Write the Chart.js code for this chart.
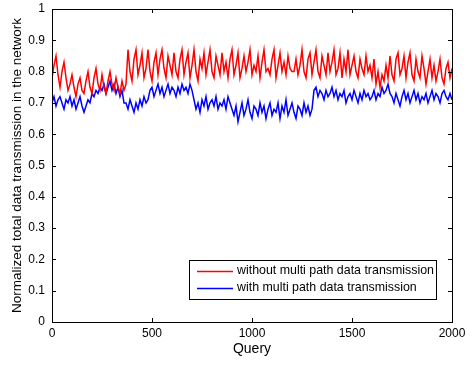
<!DOCTYPE html>
<html>
<head>
<meta charset="utf-8">
<script src="https://cdn.jsdelivr.net/npm/chart.js@4.4.1/dist/chart.umd.min.js"></script>
<style>
  html, body { margin: 0; padding: 0; background: #fff; }
  #wrap { width: 474px; height: 368px; }
</style>
</head>
<body>
<div id="wrap"><canvas id="chart" width="474" height="368"></canvas></div>
<script>
const seriesLabels = ['without multi path data transmission', 'with multi path data transmission'];
const xTicks = [0, 500, 1000, 1500, 2000];
const yTicks = [0, 0.1, 0.2, 0.3, 0.4, 0.5, 0.6, 0.7, 0.8, 0.9, 1];

// red curve, one value every 10 queries
const withoutMulti = [
  0.78, 0.82, 0.85, 0.79, 0.75, 0.80, 0.83, 0.78, 0.74, 0.76,
  0.79, 0.75, 0.72, 0.76, 0.78, 0.74, 0.73, 0.77, 0.80, 0.75,
  0.73, 0.78, 0.81, 0.76, 0.74, 0.79, 0.75, 0.73, 0.77, 0.80,
  0.76, 0.74, 0.78, 0.75, 0.73, 0.77, 0.74, 0.76, 0.87, 0.80,
  0.77, 0.84, 0.87, 0.79, 0.82, 0.86, 0.78, 0.81, 0.87, 0.80,
  0.77, 0.83, 0.86, 0.79, 0.84, 0.87, 0.81, 0.78, 0.85, 0.82,
  0.79, 0.86, 0.80, 0.78, 0.84, 0.87, 0.79, 0.83, 0.86, 0.78,
  0.82, 0.87, 0.80, 0.77, 0.84, 0.81, 0.86, 0.79, 0.83, 0.87,
  0.80, 0.78, 0.85, 0.82, 0.79, 0.86, 0.80, 0.83, 0.78, 0.84,
  0.87, 0.79, 0.82, 0.86, 0.78, 0.81, 0.85, 0.80, 0.83, 0.87,
  0.79, 0.82, 0.80, 0.85, 0.78, 0.83, 0.87, 0.80, 0.81, 0.79,
  0.84, 0.87, 0.78, 0.82, 0.86, 0.80, 0.83, 0.79, 0.85, 0.81,
  0.80, 0.80, 0.84, 0.79, 0.82, 0.87, 0.80, 0.78, 0.84, 0.86,
  0.79, 0.83, 0.87, 0.80, 0.78, 0.85, 0.82, 0.79, 0.86, 0.80,
  0.83, 0.87, 0.79, 0.81, 0.86, 0.78, 0.84, 0.80, 0.87, 0.79,
  0.82, 0.85, 0.80, 0.78, 0.84, 0.81, 0.79, 0.85, 0.80, 0.82,
  0.78, 0.84, 0.76, 0.80, 0.75, 0.79, 0.77, 0.82, 0.78, 0.85,
  0.79, 0.77, 0.84, 0.86, 0.79, 0.81, 0.85, 0.78, 0.83, 0.86,
  0.79, 0.77, 0.84, 0.80, 0.78, 0.85, 0.81, 0.76, 0.80, 0.84,
  0.78, 0.82, 0.77, 0.80, 0.84, 0.78, 0.76, 0.81, 0.83, 0.78,
  0.81
];

// blue curve, one value every 10 queries
const withMulti = [
  0.70, 0.72, 0.69, 0.71, 0.72, 0.70, 0.68, 0.71, 0.70, 0.72,
  0.69, 0.71, 0.68, 0.70, 0.72, 0.69, 0.67, 0.69, 0.71, 0.70,
  0.73, 0.72, 0.74, 0.73, 0.75, 0.74, 0.76, 0.73, 0.75, 0.77,
  0.74, 0.76, 0.73, 0.75, 0.72, 0.74, 0.70, 0.70, 0.68, 0.71,
  0.69, 0.67, 0.70, 0.68, 0.71, 0.69, 0.72, 0.70, 0.71, 0.74,
  0.75, 0.72, 0.74, 0.76, 0.73, 0.75, 0.72, 0.74, 0.76, 0.73,
  0.75, 0.74, 0.72, 0.75, 0.73, 0.76, 0.74, 0.75, 0.73, 0.76,
  0.74, 0.71, 0.68, 0.70, 0.67, 0.71, 0.69, 0.72, 0.68, 0.70,
  0.71, 0.69, 0.72, 0.68, 0.70, 0.69, 0.71, 0.68, 0.72, 0.70,
  0.68, 0.66, 0.69, 0.64, 0.67, 0.70, 0.66, 0.68, 0.71, 0.67,
  0.65, 0.69, 0.68, 0.66, 0.70, 0.67, 0.69, 0.65, 0.68, 0.70,
  0.66, 0.68, 0.67, 0.70, 0.65, 0.69, 0.67, 0.71, 0.66, 0.68,
  0.70, 0.67, 0.65, 0.69, 0.68, 0.66, 0.70, 0.67, 0.69, 0.66,
  0.68, 0.74, 0.75, 0.72, 0.74, 0.73, 0.71, 0.74, 0.72, 0.73,
  0.75, 0.72, 0.74, 0.71, 0.73, 0.72, 0.74, 0.70, 0.72, 0.73,
  0.71, 0.74, 0.72, 0.70, 0.73, 0.71, 0.74, 0.72, 0.73, 0.71,
  0.72, 0.74, 0.71, 0.73, 0.72, 0.75, 0.73, 0.74, 0.76, 0.73,
  0.72, 0.70, 0.73, 0.71, 0.69, 0.72, 0.74, 0.71, 0.73, 0.70,
  0.72, 0.74, 0.71, 0.73, 0.70, 0.72, 0.71, 0.73, 0.70, 0.72,
  0.74, 0.71, 0.73, 0.72, 0.70, 0.73, 0.74, 0.72, 0.71, 0.73,
  0.71
];

const queryStep = 10;
function toPoints(values) {
  return values.map((v, i) => ({ x: i * queryStep, y: v }));
}

const FONT = 'Liberation Sans, Arial, Helvetica, sans-serif';

// MATLAB-like box with inward ticks on all four sides
const boxPlugin = {
  id: 'boxTicks',
  afterDraw(chart) {
    const { ctx, chartArea: a, scales } = chart;
    ctx.save();
    ctx.strokeStyle = '#000';
    ctx.lineWidth = 1;
    ctx.strokeRect(a.left + 0.5, a.top + 0.5, a.right - a.left, a.bottom - a.top);
    const len = 4;
    ctx.beginPath();
    xTicks.forEach(t => {
      const px = Math.round(scales.x.getPixelForValue(t)) + 0.5;
      ctx.moveTo(px, a.bottom); ctx.lineTo(px, a.bottom - len);
      ctx.moveTo(px, a.top); ctx.lineTo(px, a.top + len);
    });
    yTicks.forEach(t => {
      const py = Math.round(scales.y.getPixelForValue(t)) + 0.5;
      ctx.moveTo(a.left, py); ctx.lineTo(a.left + len, py);
      ctx.moveTo(a.right, py); ctx.lineTo(a.right - len, py);
    });
    ctx.stroke();
    ctx.restore();
  }
};

// legend box drawn inside the plot, lower right
const legendPlugin = {
  id: 'insideLegend',
  afterDraw(chart) {
    const { ctx } = chart;
    const x0 = 189, y0 = 260, w = 247, h = 39;
    ctx.save();
    ctx.fillStyle = '#fff';
    ctx.fillRect(x0, y0, w, h);
    ctx.strokeStyle = '#000';
    ctx.lineWidth = 1;
    ctx.strokeRect(x0 + 0.5, y0 + 0.5, w, h);
    ctx.font = '12.4px ' + FONT;
    ctx.textBaseline = 'middle';
    chart.data.datasets.forEach((ds, i) => {
      const y = y0 + 11 + i * 17;
      ctx.strokeStyle = ds.borderColor;
      ctx.lineWidth = 1.5;
      ctx.beginPath();
      ctx.moveTo(197, y + 0.5); ctx.lineTo(233, y + 0.5);
      ctx.stroke();
      ctx.fillStyle = '#000';
      ctx.fillText(ds.label, 237, y);
    });
    ctx.restore();
  }
};

new Chart(document.getElementById('chart'), {
  type: 'line',
  data: {
    datasets: [{
      label: seriesLabels[0],
      data: toPoints(withoutMulti),
      borderColor: 'rgb(255, 0, 0)',
      borderWidth: 1.5,
      pointRadius: 0,
      tension: 0
    }, {
      label: seriesLabels[1],
      data: toPoints(withMulti),
      borderColor: 'rgb(0, 0, 255)',
      borderWidth: 1.5,
      pointRadius: 0,
      tension: 0
    }]
  },
  options: {
    responsive: false,
    animation: false,
    layout: { padding: { top: 9, right: 22, left: 9, bottom: 10 } },
    plugins: {
      legend: { display: false },
      tooltip: { enabled: false }
    },
    scales: {
      x: {
        type: 'linear',
        min: 0,
        max: 2000,
        afterBuildTicks: s => { s.ticks = xTicks.map(v => ({ value: v })); },
        afterFit: s => { s.height = 36; s.paddingLeft = 0; s.paddingRight = 0; },
        grid: { display: false, drawTicks: false },
        border: { display: false },
        ticks: { color: '#000', font: { size: 12, family: FONT }, padding: 4, maxRotation: 0, callback: v => String(v) },
        title: { display: true, text: 'Query', color: '#000', font: { size: 14, family: FONT }, padding: { top: 0, bottom: 0 } }
      },
      y: {
        type: 'linear',
        min: 0,
        max: 1,
        afterBuildTicks: s => { s.ticks = yTicks.map(v => ({ value: v })); },
        afterFit: s => { s.width = 43; s.paddingTop = 0; s.paddingBottom = 0; },
        grid: { display: false, drawTicks: false },
        border: { display: false },
        ticks: { color: '#000', font: { size: 12, family: FONT }, padding: 7, callback: v => String(v) },
        title: { display: true, text: 'Normalized total data transmission in the network', color: '#000', font: { size: 13.5, family: FONT }, padding: 0 }
      }
    }
  },
  plugins: [boxPlugin, legendPlugin]
});
</script>
</body>
</html>
